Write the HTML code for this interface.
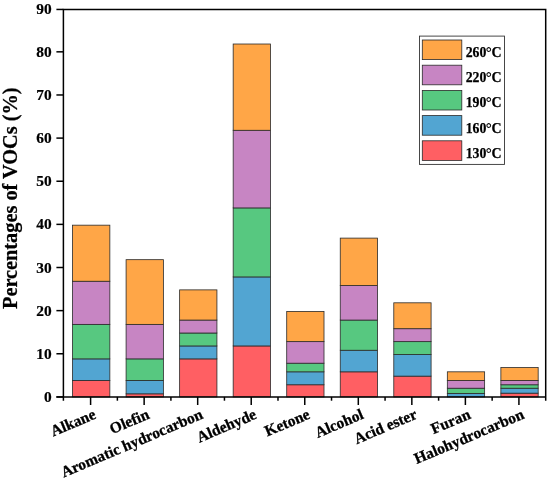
<!DOCTYPE html>
<html><head><meta charset="utf-8"><title>Percentages of VOCs</title>
<style>html,body{margin:0;padding:0;background:#fff}svg{display:block}text{font-family:"Liberation Serif","DejaVu Serif",serif;font-weight:bold;fill:#000}</style></head><body>
<svg width="550" height="481" viewBox="0 0 550 481">
<rect width="550" height="481" fill="#fff"/>
<g stroke="#2a2a2a" stroke-width="0.8">
<rect x="72.55" y="380.45" width="37.30" height="16.45" fill="#FF5F63"/>
<rect x="72.55" y="358.88" width="37.30" height="21.57" fill="#52A5D2"/>
<rect x="72.55" y="324.37" width="37.30" height="34.51" fill="#57C880"/>
<rect x="72.55" y="281.24" width="37.30" height="43.13" fill="#C785C3"/>
<rect x="72.55" y="225.17" width="37.30" height="56.07" fill="#FFA647"/>
<rect x="126.09" y="393.82" width="37.30" height="3.08" fill="#FF5F63"/>
<rect x="126.09" y="380.45" width="37.30" height="13.37" fill="#52A5D2"/>
<rect x="126.09" y="358.88" width="37.30" height="21.57" fill="#57C880"/>
<rect x="126.09" y="324.37" width="37.30" height="34.51" fill="#C785C3"/>
<rect x="126.09" y="259.67" width="37.30" height="64.70" fill="#FFA647"/>
<rect x="179.63" y="358.88" width="37.30" height="38.02" fill="#FF5F63"/>
<rect x="179.63" y="345.94" width="37.30" height="12.94" fill="#52A5D2"/>
<rect x="179.63" y="333.00" width="37.30" height="12.94" fill="#57C880"/>
<rect x="179.63" y="320.06" width="37.30" height="12.94" fill="#C785C3"/>
<rect x="179.63" y="289.87" width="37.30" height="30.19" fill="#FFA647"/>
<rect x="233.17" y="345.94" width="37.30" height="50.96" fill="#FF5F63"/>
<rect x="233.17" y="276.93" width="37.30" height="69.01" fill="#52A5D2"/>
<rect x="233.17" y="207.91" width="37.30" height="69.01" fill="#57C880"/>
<rect x="233.17" y="130.27" width="37.30" height="77.64" fill="#C785C3"/>
<rect x="233.17" y="44.01" width="37.30" height="86.27" fill="#FFA647"/>
<rect x="286.71" y="384.76" width="37.30" height="12.14" fill="#FF5F63"/>
<rect x="286.71" y="371.82" width="37.30" height="12.94" fill="#52A5D2"/>
<rect x="286.71" y="363.19" width="37.30" height="8.63" fill="#57C880"/>
<rect x="286.71" y="341.63" width="37.30" height="21.57" fill="#C785C3"/>
<rect x="286.71" y="311.43" width="37.30" height="30.19" fill="#FFA647"/>
<rect x="340.25" y="371.82" width="37.30" height="25.08" fill="#FF5F63"/>
<rect x="340.25" y="350.25" width="37.30" height="21.57" fill="#52A5D2"/>
<rect x="340.25" y="320.06" width="37.30" height="30.19" fill="#57C880"/>
<rect x="340.25" y="285.55" width="37.30" height="34.51" fill="#C785C3"/>
<rect x="340.25" y="238.11" width="37.30" height="47.45" fill="#FFA647"/>
<rect x="393.79" y="376.13" width="37.30" height="20.77" fill="#FF5F63"/>
<rect x="393.79" y="354.57" width="37.30" height="21.57" fill="#52A5D2"/>
<rect x="393.79" y="341.63" width="37.30" height="12.94" fill="#57C880"/>
<rect x="393.79" y="328.69" width="37.30" height="12.94" fill="#C785C3"/>
<rect x="393.79" y="302.81" width="37.30" height="25.88" fill="#FFA647"/>
<rect x="447.33" y="393.39" width="37.30" height="3.51" fill="#52A5D2"/>
<rect x="447.33" y="388.21" width="37.30" height="5.18" fill="#57C880"/>
<rect x="447.33" y="380.45" width="37.30" height="7.76" fill="#C785C3"/>
<rect x="447.33" y="371.82" width="37.30" height="8.63" fill="#FFA647"/>
<rect x="500.87" y="393.17" width="37.30" height="3.73" fill="#FF5F63"/>
<rect x="500.87" y="388.21" width="37.30" height="4.96" fill="#52A5D2"/>
<rect x="500.87" y="384.76" width="37.30" height="3.45" fill="#57C880"/>
<rect x="500.87" y="380.45" width="37.30" height="4.31" fill="#C785C3"/>
<rect x="500.87" y="367.51" width="37.30" height="12.94" fill="#FFA647"/>
</g>
<g stroke="#000" stroke-width="1.5" fill="none">
<path d="M63.4 400.7V9.45H545.7V400.7"/>
<path d="M56.4 396.9H545.7"/>
<path d="M56.4 396.90H63.4"/>
<path d="M56.4 353.77H63.4"/>
<path d="M56.4 310.63H63.4"/>
<path d="M56.4 267.50H63.4"/>
<path d="M56.4 224.37H63.4"/>
<path d="M56.4 181.23H63.4"/>
<path d="M56.4 138.10H63.4"/>
<path d="M56.4 94.97H63.4"/>
<path d="M56.4 51.83H63.4"/>
<path d="M56.4 9.45H63.4"/>
<path d="M90.60 396.9V405.0"/>
<path d="M117.37 396.9V400.7"/>
<path d="M144.14 396.9V405.0"/>
<path d="M170.91 396.9V400.7"/>
<path d="M197.68 396.9V405.0"/>
<path d="M224.45 396.9V400.7"/>
<path d="M251.22 396.9V405.0"/>
<path d="M277.99 396.9V400.7"/>
<path d="M304.76 396.9V405.0"/>
<path d="M331.53 396.9V400.7"/>
<path d="M358.30 396.9V405.0"/>
<path d="M385.07 396.9V400.7"/>
<path d="M411.84 396.9V405.0"/>
<path d="M438.61 396.9V400.7"/>
<path d="M465.38 396.9V405.0"/>
<path d="M492.15 396.9V400.7"/>
<path d="M518.92 396.9V405.0"/>
</g>
<text x="43.90" y="401.90" font-size="15" stroke="#000" stroke-width="0.2" textLength="7.7" lengthAdjust="spacingAndGlyphs">0</text>
<text x="36.20" y="358.77" font-size="15" stroke="#000" stroke-width="0.2" textLength="15.4" lengthAdjust="spacingAndGlyphs">10</text>
<text x="36.20" y="315.63" font-size="15" stroke="#000" stroke-width="0.2" textLength="15.4" lengthAdjust="spacingAndGlyphs">20</text>
<text x="36.20" y="272.50" font-size="15" stroke="#000" stroke-width="0.2" textLength="15.4" lengthAdjust="spacingAndGlyphs">30</text>
<text x="36.20" y="229.37" font-size="15" stroke="#000" stroke-width="0.2" textLength="15.4" lengthAdjust="spacingAndGlyphs">40</text>
<text x="36.20" y="186.23" font-size="15" stroke="#000" stroke-width="0.2" textLength="15.4" lengthAdjust="spacingAndGlyphs">50</text>
<text x="36.20" y="143.10" font-size="15" stroke="#000" stroke-width="0.2" textLength="15.4" lengthAdjust="spacingAndGlyphs">60</text>
<text x="36.20" y="99.97" font-size="15" stroke="#000" stroke-width="0.2" textLength="15.4" lengthAdjust="spacingAndGlyphs">70</text>
<text x="36.20" y="56.83" font-size="15" stroke="#000" stroke-width="0.2" textLength="15.4" lengthAdjust="spacingAndGlyphs">80</text>
<text x="36.20" y="13.70" font-size="15" stroke="#000" stroke-width="0.2" textLength="15.4" lengthAdjust="spacingAndGlyphs">90</text>
<text transform="translate(16.8 309) rotate(-90)" font-size="20.5" stroke="#000" stroke-width="0.25" textLength="221.5" lengthAdjust="spacingAndGlyphs">Percentages of VOCs (%)</text>
<text transform="translate(96.80 418.10) rotate(-23)" font-size="15.5" stroke="#000" stroke-width="0.3" text-anchor="end">Alkane</text>
<text transform="translate(150.34 418.10) rotate(-23)" font-size="15.5" stroke="#000" stroke-width="0.3" text-anchor="end">Olefin</text>
<text transform="translate(203.88 418.10) rotate(-23)" font-size="15.5" stroke="#000" stroke-width="0.3" text-anchor="end">Aromatic hydrocarbon</text>
<text transform="translate(257.42 418.10) rotate(-23)" font-size="15.5" stroke="#000" stroke-width="0.3" text-anchor="end">Aldehyde</text>
<text transform="translate(310.96 418.10) rotate(-23)" font-size="15.5" stroke="#000" stroke-width="0.3" text-anchor="end">Ketone</text>
<text transform="translate(364.50 418.10) rotate(-23)" font-size="15.5" stroke="#000" stroke-width="0.3" text-anchor="end">Alcohol</text>
<text transform="translate(418.04 418.10) rotate(-23)" font-size="15.5" stroke="#000" stroke-width="0.3" text-anchor="end">Acid ester</text>
<text transform="translate(471.58 418.10) rotate(-23)" font-size="15.5" stroke="#000" stroke-width="0.3" text-anchor="end">Furan</text>
<text transform="translate(525.12 418.10) rotate(-23)" font-size="15.5" stroke="#000" stroke-width="0.3" text-anchor="end">Halohydrocarbon</text>
<rect x="419.5" y="36.1" width="85" height="128.3" fill="#fff" stroke="#333" stroke-width="0.9"/>
<rect x="422.3" y="40.00" width="39.5" height="19.6" fill="#FFA647" stroke="#2a2a2a" stroke-width="0.8"/>
<text y="57.00" font-size="15" stroke="#000" stroke-width="0.25"><tspan x="465.7" textLength="20.7" lengthAdjust="spacingAndGlyphs">260</tspan><tspan x="485.7" stroke-width="0.1">°</tspan><tspan x="491.6" textLength="10.1" lengthAdjust="spacingAndGlyphs">C</tspan></text>
<rect x="422.3" y="65.20" width="39.5" height="19.6" fill="#C785C3" stroke="#2a2a2a" stroke-width="0.8"/>
<text y="82.20" font-size="15" stroke="#000" stroke-width="0.25"><tspan x="465.7" textLength="20.7" lengthAdjust="spacingAndGlyphs">220</tspan><tspan x="485.7" stroke-width="0.1">°</tspan><tspan x="491.6" textLength="10.1" lengthAdjust="spacingAndGlyphs">C</tspan></text>
<rect x="422.3" y="90.40" width="39.5" height="19.6" fill="#57C880" stroke="#2a2a2a" stroke-width="0.8"/>
<text y="107.40" font-size="15" stroke="#000" stroke-width="0.25"><tspan x="465.7" textLength="20.7" lengthAdjust="spacingAndGlyphs">190</tspan><tspan x="485.7" stroke-width="0.1">°</tspan><tspan x="491.6" textLength="10.1" lengthAdjust="spacingAndGlyphs">C</tspan></text>
<rect x="422.3" y="115.60" width="39.5" height="19.6" fill="#52A5D2" stroke="#2a2a2a" stroke-width="0.8"/>
<text y="132.60" font-size="15" stroke="#000" stroke-width="0.25"><tspan x="465.7" textLength="20.7" lengthAdjust="spacingAndGlyphs">160</tspan><tspan x="485.7" stroke-width="0.1">°</tspan><tspan x="491.6" textLength="10.1" lengthAdjust="spacingAndGlyphs">C</tspan></text>
<rect x="422.3" y="140.80" width="39.5" height="19.6" fill="#FF5F63" stroke="#2a2a2a" stroke-width="0.8"/>
<text y="157.80" font-size="15" stroke="#000" stroke-width="0.25"><tspan x="465.7" textLength="20.7" lengthAdjust="spacingAndGlyphs">130</tspan><tspan x="485.7" stroke-width="0.1">°</tspan><tspan x="491.6" textLength="10.1" lengthAdjust="spacingAndGlyphs">C</tspan></text>
</svg></body></html>
